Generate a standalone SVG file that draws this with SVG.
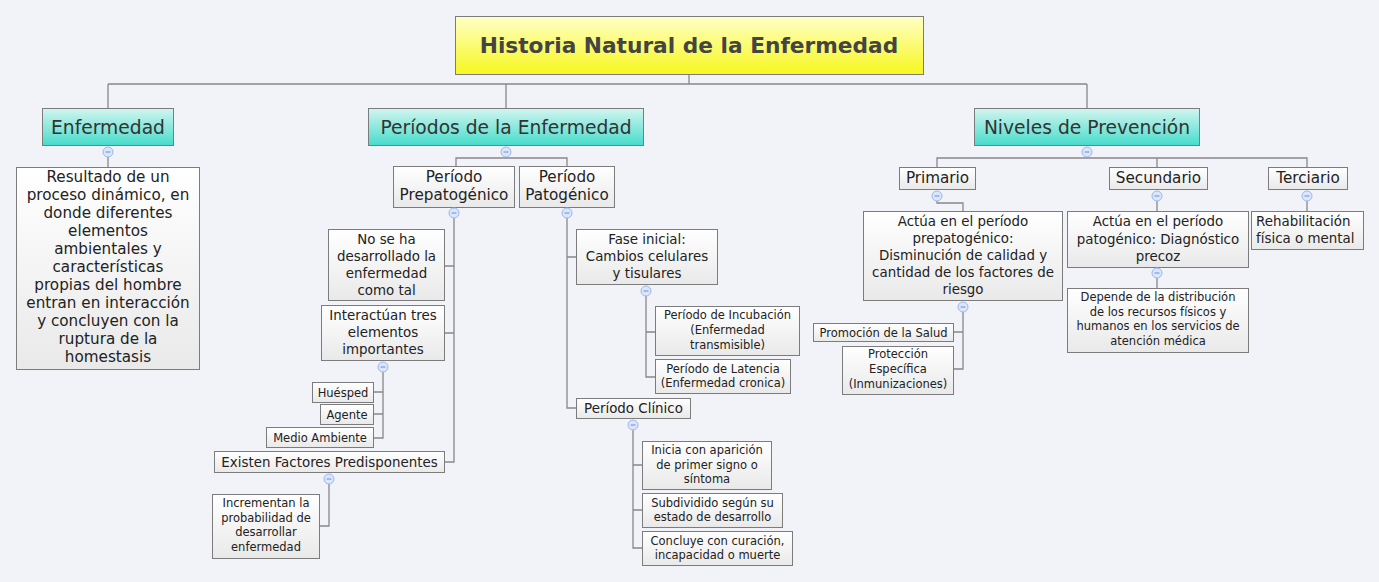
<svg xmlns="http://www.w3.org/2000/svg" width="1379" height="582" viewBox="0 0 1379 582">
<defs>
<linearGradient id="gY" x1="0" y1="0" x2="0" y2="1"><stop offset="0" stop-color="#ffffc6"/><stop offset="1" stop-color="#f7f71e"/></linearGradient>
<linearGradient id="gT" x1="0" y1="0" x2="0" y2="1"><stop offset="0" stop-color="#d2f5ef"/><stop offset="1" stop-color="#46dccb"/></linearGradient>
<linearGradient id="gW" x1="0" y1="0" x2="0" y2="1"><stop offset="0" stop-color="#ffffff"/><stop offset="1" stop-color="#e9e9e9"/></linearGradient>
<g id="col"><circle r="5" fill="#dbe6fb" stroke="#9db6ea" stroke-width="1"/><path d="M-2.5,0H2.5" stroke="#6d8ed3" stroke-width="1"/></g>
</defs>
<style>
text{font-family:"DejaVu Sans","Liberation Sans",sans-serif;fill:#222;text-anchor:middle;dominant-baseline:central}
.t{font-size:21.7px;font-weight:bold;fill:#444}
.m{font-size:18.7px;fill:#333}
.b{font-size:15.2px}
.d{font-size:13.4px}
.s{font-size:11.5px}
.bx{fill:url(#gW);stroke:#7c7c7c;stroke-width:1}
.tl{fill:url(#gT);stroke:#7c7c7c;stroke-width:1}
.ty{fill:url(#gY);stroke:#7c7c7c;stroke-width:1}
.c path{fill:none;stroke:#888;stroke-width:1.3}
</style>
<rect width="1379" height="582" fill="#f2f3f8"/>
<g id="connectors" class="c">
<path d="M689,74V84M108,84H1087M108,84V108M506,84V108M1087,84V108"/>
<path d="M108,157V167"/>
<path d="M506,157V158M456,166V158H567V166"/>
<path d="M454,218V462H445M454,266H445M454,333H445"/>
<path d="M383,372V438H373M383,392H373M383,414H373"/>
<path d="M329,484V526H319"/>
<path d="M567,218V408H576M567,257H576"/>
<path d="M646,296V377H655M646,332H655"/>
<path d="M633,430V548H642M633,465H642M633,510H642"/>
<path d="M1087,157V158M937,168V158H1307V168M1157,158V168"/>
<path d="M937,201V203H963V212"/>
<path d="M963,312V369H953M963,332H953"/>
<path d="M1157,201V211M1157,278V288M1307,201V211"/>
</g>
<g id="title"><rect class="ty" x="455.5" y="16.5" width="468" height="58"/><text class="t" x="689" y="45">Historia Natural de la Enfermedad</text></g>
<g id="enfermedad"><rect class="tl" x="42.5" y="108.5" width="131" height="37"/><text class="m" x="108" y="127">Enfermedad</text><use href="#col" x="108" y="152"/></g>
<g id="periodos"><rect class="tl" x="368.5" y="108.5" width="275" height="37"/><text class="m" x="506" y="127">Períodos de la Enfermedad</text><use href="#col" x="506" y="152"/></g>
<g id="niveles"><rect class="tl" x="974.5" y="108.5" width="225" height="37"/><text class="m" x="1087" y="127">Niveles de Prevención</text><use href="#col" x="1087" y="152"/></g>
<g id="resultado"><rect class="bx" x="16.5" y="167.5" width="183" height="202"/>
<text class="b" x="108"><tspan x="108" y="177">Resultado de un</tspan><tspan x="108" y="195">proceso dinámico, en</tspan><tspan x="108" y="213">donde diferentes</tspan><tspan x="108" y="231">elementos</tspan><tspan x="108" y="249">ambientales y</tspan><tspan x="108" y="267">características</tspan><tspan x="108" y="285">propias del hombre</tspan><tspan x="108" y="303">entran en interacción</tspan><tspan x="108" y="321">y concluyen con la</tspan><tspan x="108" y="339">ruptura de la</tspan><tspan x="108" y="357">homestasis</tspan></text></g>
<g id="prepatogenico"><rect class="bx" x="393.5" y="166.5" width="121" height="41"/><text class="b"><tspan x="454" y="177">Período</tspan><tspan x="454" y="195">Prepatogénico</tspan></text><use href="#col" x="454" y="213"/></g>
<g id="patogenico"><rect class="bx" x="519.5" y="166.5" width="95" height="41"/><text class="b"><tspan x="567" y="177">Período</tspan><tspan x="567" y="195">Patogénico</tspan></text><use href="#col" x="567" y="213"/></g>
<g id="nosehadesarrollado"><rect class="bx" x="328.5" y="229.5" width="116" height="71"/><text class="d"><tspan x="386.5" y="239">No se ha</tspan><tspan x="386.5" y="256">desarrollado la</tspan><tspan x="386.5" y="273">enfermedad</tspan><tspan x="386.5" y="290">como tal</tspan></text></g>
<g id="interactuan"><rect class="bx" x="321.5" y="305.5" width="123" height="55"/><text class="d"><tspan x="383" y="315">Interactúan tres</tspan><tspan x="383" y="332">elementos</tspan><tspan x="383" y="349">importantes</tspan></text><use href="#col" x="383" y="367"/></g>
<g id="huesped"><rect class="bx" x="312.5" y="382.5" width="61" height="20"/><text class="s" x="343" y="392.5">Huésped</text></g>
<g id="agente"><rect class="bx" x="320.5" y="404.5" width="53" height="20"/><text class="s" x="347" y="414.5">Agente</text></g>
<g id="medioambiente"><rect class="bx" x="266.5" y="427.5" width="107" height="20"/><text class="s" x="320" y="437.5">Medio Ambiente</text></g>
<g id="existen"><rect class="bx" x="214.5" y="451.5" width="230" height="21"/><text class="d" x="329.5" y="462">Existen Factores Predisponentes</text><use href="#col" x="329" y="479"/></g>
<g id="incrementan"><rect class="bx" x="212.5" y="494.5" width="107" height="64"/><text class="s"><tspan x="266" y="503">Incrementan la</tspan><tspan x="266" y="517.7">probabilidad de</tspan><tspan x="266" y="532.4">desarrollar</tspan><tspan x="266" y="547.1">enfermedad</tspan></text></g>
<g id="faseinicial"><rect class="bx" x="576.5" y="229.5" width="141" height="55"/><text class="d"><tspan x="647" y="239">Fase inicial:</tspan><tspan x="647" y="256">Cambios celulares</tspan><tspan x="647" y="273">y tisulares</tspan></text><use href="#col" x="646" y="291"/></g>
<g id="incubacion"><rect class="bx" x="655.5" y="306.5" width="144" height="49"/><text class="s"><tspan x="727.5" y="315">Período de Incubación</tspan><tspan x="727.5" y="330">(Enfermedad</tspan><tspan x="727.5" y="345">transmisible)</tspan></text></g>
<g id="latencia"><rect class="bx" x="655.5" y="359.5" width="135" height="34"/><text class="s"><tspan x="723" y="368.5">Período de Latencia</tspan><tspan x="723" y="383">(Enfermedad cronica)</tspan></text></g>
<g id="clinico"><rect class="bx" x="576.5" y="398.5" width="114" height="20"/><text class="d" x="633.5" y="408">Período Clínico</text><use href="#col" x="633" y="425"/></g>
<g id="inicia"><rect class="bx" x="642.5" y="441.5" width="129" height="48"/><text class="s"><tspan x="707" y="450">Inicia con aparición</tspan><tspan x="707" y="464.5">de primer signo o</tspan><tspan x="707" y="479">síntoma</tspan></text></g>
<g id="subdividido"><rect class="bx" x="642.5" y="493.5" width="140" height="34"/><text class="s"><tspan x="712.5" y="502.5">Subdividido según su</tspan><tspan x="712.5" y="517">estado de desarrollo</tspan></text></g>
<g id="concluye"><rect class="bx" x="642.5" y="531.5" width="150" height="34"/><text class="s"><tspan x="717.5" y="540.5">Concluye con curación,</tspan><tspan x="717.5" y="555">incapacidad o muerte</tspan></text></g>
<g id="primario"><rect class="bx" x="899.5" y="167.5" width="76" height="22"/><text class="b" x="937.5" y="178">Primario</text><use href="#col" x="937" y="196"/></g>
<g id="secundario"><rect class="bx" x="1109.5" y="167.5" width="98" height="22"/><text class="b" x="1158.5" y="178">Secundario</text><use href="#col" x="1157" y="196"/></g>
<g id="terciario"><rect class="bx" x="1268.5" y="167.5" width="79" height="22"/><text class="b" x="1308" y="178">Terciario</text><use href="#col" x="1307" y="196"/></g>
<g id="actua1"><rect class="bx" x="863.5" y="211.5" width="199" height="89"/><text class="d"><tspan x="963" y="221">Actúa en el período</tspan><tspan x="963" y="238">prepatogénico:</tspan><tspan x="963" y="255">Disminución de calidad y</tspan><tspan x="963" y="272">cantidad de los factores de</tspan><tspan x="963" y="289">riesgo</tspan></text><use href="#col" x="963" y="307"/></g>
<g id="promocion"><rect class="bx" x="813.5" y="323.5" width="140" height="18"/><text class="s" x="883.5" y="332.5">Promoción de la Salud</text></g>
<g id="proteccion"><rect class="bx" x="842.5" y="346.5" width="111" height="48"/><text class="s"><tspan x="898" y="354">Protección</tspan><tspan x="898" y="369">Específica</tspan><tspan x="898" y="384">(Inmunizaciones)</tspan></text></g>
<g id="actua2"><rect class="bx" x="1067.5" y="211.5" width="181" height="56"/><text class="d"><tspan x="1158" y="221">Actúa en el período</tspan><tspan x="1158" y="238.5">patogénico: Diagnóstico</tspan><tspan x="1158" y="256">precoz</tspan></text><use href="#col" x="1157" y="273"/></g>
<g id="depende"><rect class="bx" x="1067.5" y="288.5" width="181" height="64"/><text class="s"><tspan x="1158" y="297">Depende de la distribución</tspan><tspan x="1158" y="311.7">de los recursos físicos y</tspan><tspan x="1158" y="326.4">humanos en los servicios de</tspan><tspan x="1158" y="341">atención médica</tspan></text></g>
<g id="rehabilitacion"><rect class="bx" x="1251.5" y="211.5" width="112" height="38"/><text class="d" style="text-anchor:start"><tspan x="1256" y="221">Rehabilitación</tspan><tspan x="1256" y="238">física o mental</tspan></text></g>
</svg>
